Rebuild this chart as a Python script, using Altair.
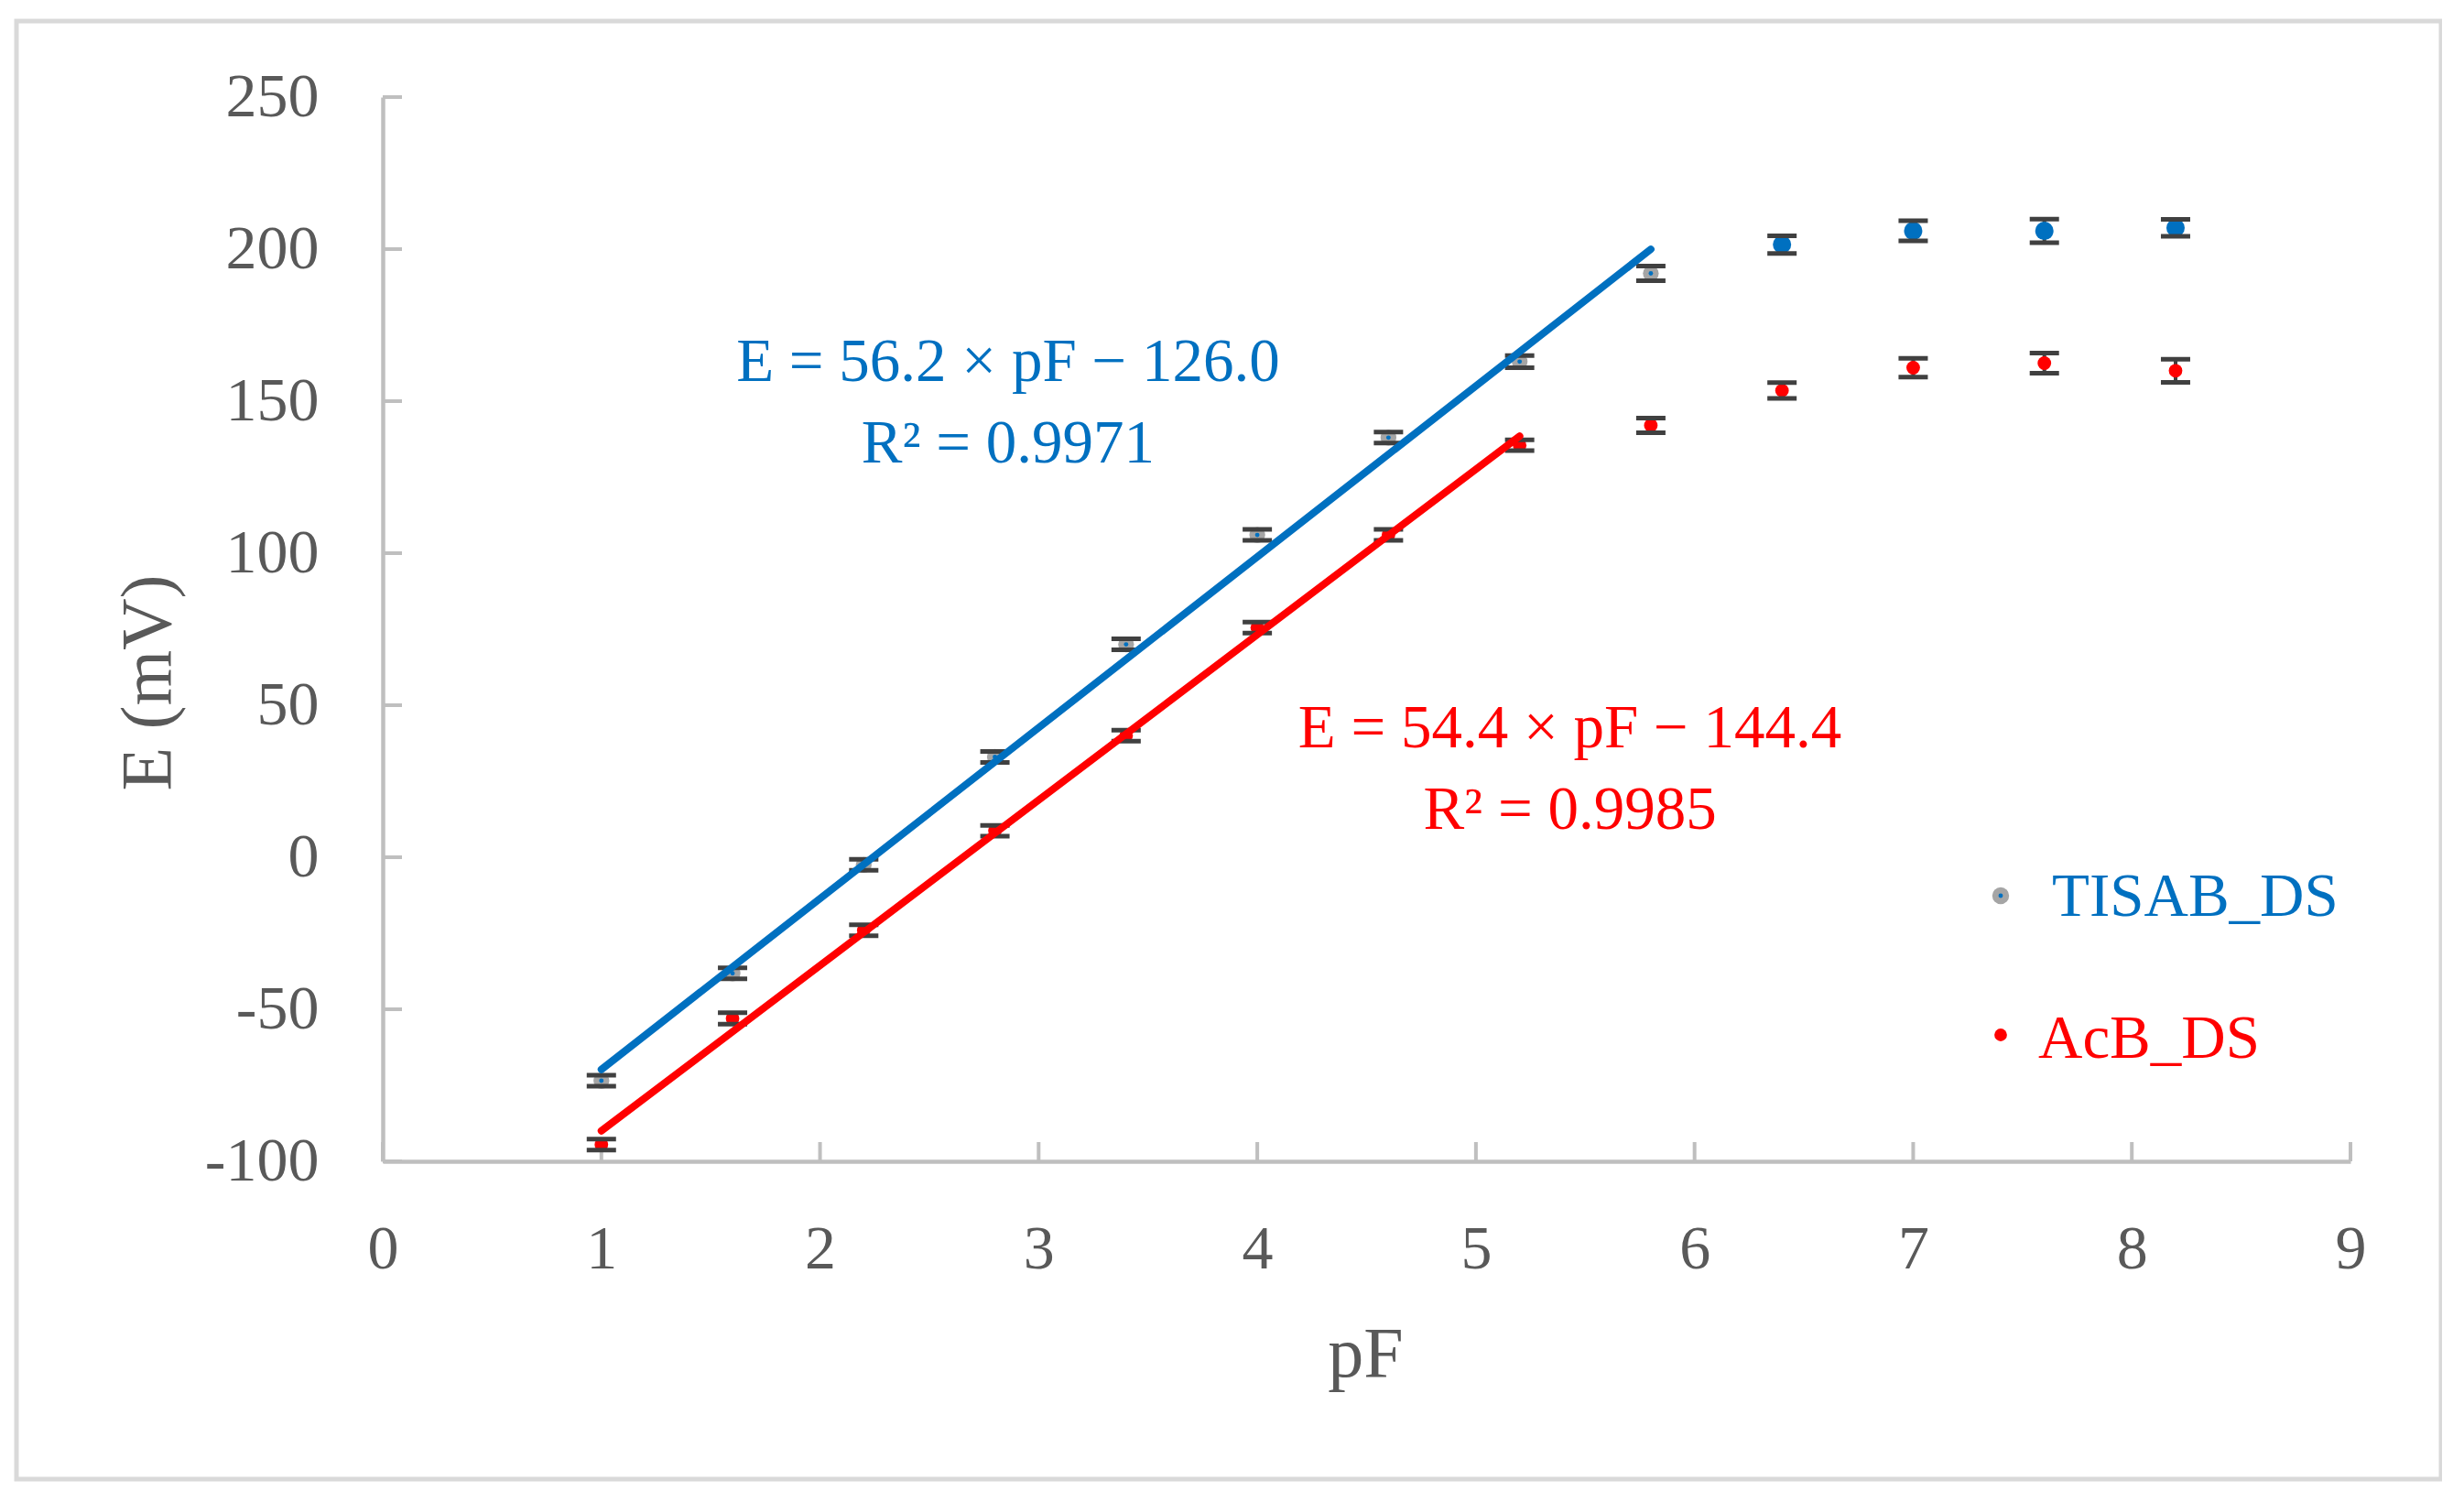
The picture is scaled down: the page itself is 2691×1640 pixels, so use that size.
import altair as alt
import pandas as pd

# ---------------- data ----------------
pF = [1.0, 1.6, 2.2, 2.8, 3.4, 4.0, 4.6, 5.2, 5.8, 6.4, 7.0, 7.6, 8.2]
tisab_E = [-73.5, -38.2, -2.5, 33.0, 70.0, 106.0, 138.0, 163.0, 192.0, 201.5, 206.0, 206.0, 207.0]
tisab_err = [1.8, 1.8, 1.8, 1.8, 1.8, 1.8, 1.8, 2.0, 2.4, 2.9, 3.3, 3.9, 2.8]
acb_E = [-94.5, -53.0, -24.0, 8.7, 40.0, 75.5, 106.0, 135.5, 142.0, 153.5, 161.0, 162.5, 160.0]
acb_err = [1.8, 1.9, 1.8, 1.8, 1.8, 1.8, 1.8, 1.8, 2.4, 2.6, 3.1, 3.3, 3.8]

series_names = ["TISAB_DS", "AcB_DS"]
series_colors = ["#0070C0", "#FF0000"]

fit_slope = [56.2, 54.4]
fit_intercept = [-126.0, -144.4]
fit_start = [1.0, 1.0]
fit_end = [5.8, 5.2]

eq_text = ["E = 56.2 × pF − 126.0", "E = 54.4 × pF − 144.4"]
r2_text = ["R² = 0.9971", "R² = 0.9985"]
eq_pos_x = [2.86, 5.43]
eq_pos_y = [156.6, 36.1]
r2_pos_y = [129.8, 9.3]

x_ticks = [0, 1, 2, 3, 4, 5, 6, 7, 8, 9]
y_ticks = [-100, -50, 0, 50, 100, 150, 200, 250]

# ---------------- tables ----------------
n = len(pF)
pts = pd.DataFrame({
    "series": [series_names[0]] * n + [series_names[1]] * n,
    "pF": pF + pF,
    "E": tisab_E + acb_E,
    "err": tisab_err + acb_err,
})
pts["lo"] = pts["E"] - pts["err"]
pts["hi"] = pts["E"] + pts["err"]
end_map = dict(zip(series_names, fit_end))
pts["in_fit"] = [p <= end_map[s] + 1e-9 for s, p in zip(pts["series"], pts["pF"])]

fits = pd.DataFrame({
    "series": series_names,
    "x0": fit_start,
    "x1": fit_end,
})
fits["y0"] = [m * a + b for m, a, b in zip(fit_slope, fit_start, fit_intercept)]
fits["y1"] = [m * a + b for m, a, b in zip(fit_slope, fit_end, fit_intercept)]

ann = pd.DataFrame({
    "series": series_names + series_names,
    "text": eq_text + r2_text,
    "x": eq_pos_x + eq_pos_x,
    "y": eq_pos_y + r2_pos_y,
})

# ---------------- style ----------------
FONT = "Liberation Serif"
W, H = 2149, 1162
AXIS_GRAY = "#BFBFBF"
TEXT_GRAY = "#595959"
ERR_COLOR = "#404040"

xs = alt.Scale(domain=[0, 9], nice=False, zero=False)
ys = alt.Scale(domain=[-100, 250], nice=False, zero=False)
cscale = alt.Scale(domain=series_names, range=series_colors)

xaxis = alt.Axis(values=x_ticks, ticks=False, grid=False, labelPadding=62,
                 labelFlush=False, labelOverlap=False, labelFont=FONT,
                 labelFontSize=68, labelColor=TEXT_GRAY, domainColor=AXIS_GRAY,
                 domainWidth=4.5, titleFont=FONT, titleFontSize=78,
                 titleFontWeight="normal", titleColor=TEXT_GRAY,
                 titleX=1073, titleY=234, titleBaseline="alphabetic",
                 titleAlign="center")
yaxis = alt.Axis(values=y_ticks, ticks=False, grid=False, labelPadding=70,
                 labelFlush=False, labelOverlap=False, labelFont=FONT,
                 labelFontSize=68, labelColor=TEXT_GRAY, domainColor=AXIS_GRAY,
                 domainWidth=4.5,
                 labelExpr="datum.value < 0 ? '-' + abs(datum.value) : '' + datum.value",
                 titleFont=FONT, titleFontSize=78, titleFontWeight="normal",
                 titleColor=TEXT_GRAY, titleAngle=270, titleX=-233, titleY=639,
                 titleBaseline="alphabetic", titleAlign="center")


def X(field):
    return alt.X(f"{field}:Q", scale=xs, axis=xaxis, title="pF")


def Y(field):
    return alt.Y(f"{field}:Q", scale=ys, axis=yaxis, title="E (mV)")


one = pd.DataFrame({"k": [0]})

# outer frame
frame = alt.Chart(one).mark_rect(fillOpacity=0, stroke="#D9D9D9", strokeWidth=5).encode(
    x=alt.value(-400), x2=alt.value(2248), y=alt.value(-83), y2=alt.value(1509)
)

# inward tick marks
ytk = alt.Chart(pd.DataFrame({"v": y_ticks})).mark_rule(color=AXIS_GRAY, strokeWidth=4).encode(
    y=Y("v"), x=alt.value(0), x2=alt.value(21)
)
xtk = alt.Chart(pd.DataFrame({"v": x_ticks})).mark_rule(color=AXIS_GRAY, strokeWidth=4).encode(
    x=X("v"), y=alt.value(H), y2=alt.value(H - 21)
)

base = alt.Chart(pts)

err_bar = base.mark_rule(color=ERR_COLOR, strokeWidth=4).encode(
    x=X("pF"), y=Y("lo"), y2="hi"
)
cap_lo = base.mark_tick(orient="horizontal", size=32, thickness=5, color=ERR_COLOR, opacity=1).encode(
    x=X("pF"), y=Y("lo")
)
cap_hi = base.mark_tick(orient="horizontal", size=32, thickness=5, color=ERR_COLOR, opacity=1).encode(
    x=X("pF"), y=Y("hi")
)

tis_lin = base.transform_filter(
    f"datum.series == '{series_names[0]}' && datum.in_fit"
)
gray_pts = tis_lin.mark_circle(size=300, color="#A5A5A5", opacity=1).encode(x=X("pF"), y=Y("E"))
gray_ctr = tis_lin.mark_circle(size=24, color="#0070C0", opacity=1).encode(x=X("pF"), y=Y("E"))
blue_pts = base.transform_filter(
    f"datum.series == '{series_names[0]}' && !datum.in_fit"
).mark_circle(size=400, color="#0070C0", opacity=1).encode(x=X("pF"), y=Y("E"))
red_pts = base.transform_filter(
    f"datum.series == '{series_names[1]}'"
).mark_circle(size=220, color="#FF0000", opacity=1).encode(x=X("pF"), y=Y("E"))

fit_lines = alt.Chart(fits).mark_rule(strokeWidth=8, strokeCap="round").encode(
    x=X("x0"), x2="x1", y=Y("y0"), y2="y1",
    color=alt.Color("series:N", scale=cscale, legend=None),
)

texts = alt.Chart(ann).mark_text(font=FONT, fontSize=67, align="center", baseline="alphabetic").encode(
    x=X("x"), y=Y("y"), text="text:N",
    color=alt.Color("series:N", scale=cscale, legend=None),
)

# manual legend
leg_gray = alt.Chart(one).mark_circle(size=340, color="#A5A5A5", opacity=1).encode(
    x=alt.value(1767), y=alt.value(872)
)
leg_gray_c = alt.Chart(one).mark_circle(size=24, color="#0070C0", opacity=1).encode(
    x=alt.value(1767), y=alt.value(872)
)
leg_red = alt.Chart(one).mark_circle(size=190, color="#FF0000", opacity=1).encode(
    x=alt.value(1767), y=alt.value(1024)
)
leg_t1 = alt.Chart(pd.DataFrame({"label": [series_names[0]]})).mark_text(
    font=FONT, fontSize=67, align="left", baseline="alphabetic", color=series_colors[0]
).encode(x=alt.value(1823), y=alt.value(894), text="label:N")
leg_t2 = alt.Chart(pd.DataFrame({"label": [series_names[1]]})).mark_text(
    font=FONT, fontSize=67, align="left", baseline="alphabetic", color=series_colors[1]
).encode(x=alt.value(1808), y=alt.value(1049), text="label:N")

chart = alt.layer(
    ytk, xtk, frame, err_bar, gray_pts, gray_ctr, blue_pts, red_pts, cap_lo, cap_hi,
    fit_lines, texts, leg_gray, leg_gray_c, leg_red, leg_t1, leg_t2,
).properties(
    width=W, height=H,
    autosize=alt.AutoSizeParams(type="none"),
    padding={"left": 410, "top": 98, "right": 100, "bottom": 357},
    background="white",
).configure_view(stroke=None)

chart.save("out.html", embed_options={"renderer": "svg", "actions": False})
